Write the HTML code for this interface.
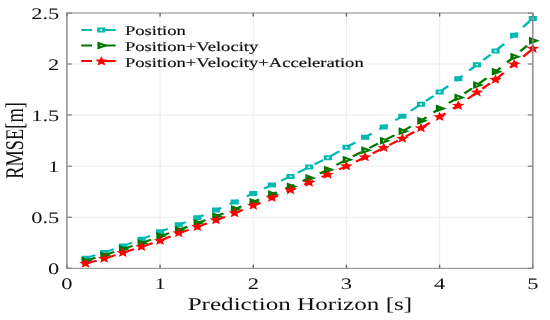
<!DOCTYPE html><html><head><meta charset="utf-8"><style>html,body{margin:0;padding:0;background:#fff;overflow:hidden}svg{display:block}text{text-rendering:geometricPrecision;font-family:"Liberation Serif","Times New Roman",serif;fill:#111}.lg{stroke:#111;stroke-width:0.16px}</style></head><body>
<svg width="550" height="320" viewBox="0 0 550 320">
<rect width="550" height="320" fill="#fff"/>
<g transform="scale(1.4,1)">
<path d="M114.34,13.0V268.3 M180.90,13.0V268.3 M247.46,13.0V268.3 M314.01,13.0V268.3" stroke="#ededed" stroke-width="0.8" fill="none"/>
<path d="M47.79,217.24H380.57 M47.79,166.18H380.57 M47.79,115.12H380.57 M47.79,64.06H380.57" stroke="#ededed" stroke-width="1" fill="none"/>
<path d="M47.79,268.3v-3.6M47.79,13.0v3.6M114.34,268.3v-3.6M114.34,13.0v3.6M180.90,268.3v-3.6M180.90,13.0v3.6M247.46,268.3v-3.6M247.46,13.0v3.6M314.01,268.3v-3.6M314.01,13.0v3.6M380.57,268.3v-3.6M380.57,13.0v3.6M47.79,268.30h3.60M380.57,268.30h-3.60M47.79,217.24h3.60M380.57,217.24h-3.60M47.79,166.18h3.60M380.57,166.18h-3.60M47.79,115.12h3.60M380.57,115.12h-3.60M47.79,64.06h3.60M380.57,64.06h-3.60M47.79,13.00h3.60M380.57,13.00h-3.60" stroke="#666" stroke-width="1" fill="none"/>
<text font-size="16.1" transform="translate(47.79,289.4) scale(0.9982,1)" text-anchor="middle">0</text>
<text font-size="16.1" transform="translate(114.34,289.4) scale(0.9982,1)" text-anchor="middle">1</text>
<text font-size="16.1" transform="translate(180.90,289.4) scale(0.9982,1)" text-anchor="middle">2</text>
<text font-size="16.1" transform="translate(247.46,289.4) scale(0.9982,1)" text-anchor="middle">3</text>
<text font-size="16.1" transform="translate(314.01,289.4) scale(0.9982,1)" text-anchor="middle">4</text>
<text font-size="16.1" transform="translate(380.57,289.4) scale(0.9982,1)" text-anchor="middle">5</text>
<text font-size="16.1" transform="translate(42.36,273.90) scale(0.9982,1)" text-anchor="end">0</text>
<text font-size="16.1" transform="translate(42.36,222.84) scale(0.9982,1)" text-anchor="end">0.5</text>
<text font-size="16.1" transform="translate(42.36,171.78) scale(0.9982,1)" text-anchor="end">1</text>
<text font-size="16.1" transform="translate(42.36,120.72) scale(0.9982,1)" text-anchor="end">1.5</text>
<text font-size="16.1" transform="translate(42.36,69.66) scale(0.9982,1)" text-anchor="end">2</text>
<text font-size="16.1" transform="translate(42.36,18.60) scale(0.9982,1)" text-anchor="end">2.5</text>
<text font-size="17.9" transform="translate(214.21,310.4) scale(1.0024,1)" text-anchor="middle">Prediction Horizon [s]</text>
<text font-size="18.4" transform="translate(16.43,178.8) rotate(-90) scale(1,0.9899)">RMSE[m]</text>
<polyline points="61.10,258.19 74.41,252.47 87.72,246.04 101.03,239.30 114.34,231.64 127.65,224.69 140.97,217.65 154.28,210.09 167.59,201.92 180.90,193.45 194.21,184.97 207.52,176.39 220.83,167.10 234.15,157.70 247.46,147.19 260.77,137.18 274.08,126.97 287.39,116.35 300.70,104.30 314.01,91.94 327.33,78.87 340.64,64.77 353.95,50.99 367.26,35.26 380.57,18.41" fill="none" stroke="#00b9b2" stroke-width="2" stroke-dasharray="7.50,7.02" stroke-dashoffset="14.35"/>
<path fill="#00b9b2" fill-rule="evenodd" d="M58.20,255.69h5.8v5.0h-5.8ZM60.35,257.44v1.5h1.5v-1.5ZM71.51,249.97h5.8v5.0h-5.8ZM73.66,251.72v1.5h1.5v-1.5ZM84.82,243.54h5.8v5.0h-5.8ZM98.13,236.80h5.8v5.0h-5.8ZM111.44,229.14h5.8v5.0h-5.8ZM124.75,222.19h5.8v5.0h-5.8ZM138.07,215.15h5.8v5.0h-5.8ZM151.38,207.59h5.8v5.0h-5.8ZM164.69,199.42h5.8v5.0h-5.8ZM178.00,190.95h5.8v5.0h-5.8ZM191.31,182.47h5.8v5.0h-5.8ZM204.62,173.89h5.8v5.0h-5.8ZM206.77,175.64v1.5h1.5v-1.5ZM217.93,164.60h5.8v5.0h-5.8ZM220.08,166.35v1.5h1.5v-1.5ZM231.25,155.20h5.8v5.0h-5.8ZM233.40,156.95v1.5h1.5v-1.5ZM244.56,144.69h5.8v5.0h-5.8ZM246.71,146.44v1.5h1.5v-1.5ZM257.87,134.68h5.8v5.0h-5.8ZM271.18,124.47h5.8v5.0h-5.8ZM284.49,113.85h5.8v5.0h-5.8ZM297.80,101.80h5.8v5.0h-5.8ZM299.95,103.55v1.5h1.5v-1.5ZM311.11,89.44h5.8v5.0h-5.8ZM313.26,91.19v1.5h1.5v-1.5ZM324.43,76.37h5.8v5.0h-5.8ZM337.74,62.27h5.8v5.0h-5.8ZM339.89,64.02v1.5h1.5v-1.5ZM351.05,48.49h5.8v5.0h-5.8ZM353.20,50.24v1.5h1.5v-1.5ZM364.36,32.76h5.8v5.0h-5.8ZM377.67,15.91h5.8v5.0h-5.8ZM379.82,17.66v1.5h1.5v-1.5Z"/>
<polyline points="61.10,260.64 74.41,255.23 87.72,249.00 101.03,243.18 114.34,236.03 127.65,230.00 140.97,223.06 154.28,216.22 167.59,209.07 180.90,201.92 194.21,194.26 207.52,186.60 220.83,177.92 234.15,169.75 247.46,159.64 260.77,150.25 274.08,140.65 287.39,131.25 300.70,120.84 314.01,108.38 327.33,97.56 340.64,85.10 353.95,71.82 367.26,56.71 380.57,40.78" fill="none" stroke="#007800" stroke-width="2" stroke-dasharray="7.50,7.02" stroke-dashoffset="14.29"/>
<path fill="#007800" fill-rule="evenodd" d="M58.40,256.64L66.20,260.64L58.40,264.64ZM60.60,259.89L60.60,261.39L62.10,260.64ZM71.71,251.23L79.51,255.23L71.71,259.23ZM73.91,254.48L73.91,255.98L75.41,255.23ZM85.02,245.00L92.82,249.00L85.02,253.00ZM87.22,248.25L87.22,249.75L88.72,249.00ZM98.33,239.18L106.13,243.18L98.33,247.18ZM100.53,242.43L100.53,243.93L102.03,243.18ZM111.64,232.03L119.44,236.03L111.64,240.03ZM124.95,226.00L132.75,230.00L124.95,234.00ZM138.27,219.06L146.07,223.06L138.27,227.06ZM151.58,212.22L159.38,216.22L151.58,220.22ZM164.89,205.07L172.69,209.07L164.89,213.07ZM178.20,197.92L186.00,201.92L178.20,205.92ZM191.51,190.26L199.31,194.26L191.51,198.26ZM204.82,182.60L212.62,186.60L204.82,190.60ZM218.13,173.92L225.93,177.92L218.13,181.92ZM231.45,165.75L239.25,169.75L231.45,173.75ZM244.76,155.64L252.56,159.64L244.76,163.64ZM246.96,158.89L246.96,160.39L248.46,159.64ZM258.07,146.25L265.87,150.25L258.07,154.25ZM260.27,149.50L260.27,151.00L261.77,150.25ZM271.38,136.65L279.18,140.65L271.38,144.65ZM273.58,139.90L273.58,141.40L275.08,140.65ZM284.69,127.25L292.49,131.25L284.69,135.25ZM286.89,130.50L286.89,132.00L288.39,131.25ZM298.00,116.84L305.80,120.84L298.00,124.84ZM311.31,104.38L319.11,108.38L311.31,112.38ZM324.63,93.56L332.43,97.56L324.63,101.56ZM326.83,96.81L326.83,98.31L328.33,97.56ZM337.94,81.10L345.74,85.10L337.94,89.10ZM340.14,84.35L340.14,85.85L341.64,85.10ZM351.25,67.82L359.05,71.82L351.25,75.82ZM364.56,52.71L372.36,56.71L364.56,60.71ZM366.76,55.96L366.76,57.46L368.26,56.71ZM377.87,36.78L385.67,40.78L377.87,44.78ZM380.07,40.03L380.07,41.53L381.57,40.78Z"/>
<polyline points="61.10,263.60 74.41,258.60 87.72,252.78 101.03,246.85 114.34,240.73 127.65,233.07 140.97,226.94 154.28,220.20 167.59,213.16 180.90,205.60 194.21,197.84 207.52,190.08 220.83,182.52 234.15,174.55 247.46,166.18 260.77,157.19 274.08,147.80 287.39,138.51 300.70,128.09 314.01,116.86 327.33,105.62 340.64,92.35 353.95,79.68 367.26,64.26 380.57,48.64" fill="none" stroke="#ff0000" stroke-width="2" stroke-dasharray="7.50,7.02" stroke-dashoffset="13.45"/>
<path fill="#ff0000" d="M61.10,258.45L62.33,261.77L65.61,262.01L63.08,264.30L63.89,267.77L61.10,265.87L58.31,267.77L59.11,264.30L56.58,262.01L59.87,261.77ZM74.41,253.45L75.64,256.77L78.93,257.01L76.40,259.30L77.20,262.77L74.41,260.86L71.62,262.77L72.42,259.30L69.89,257.01L73.18,256.77ZM87.72,247.63L88.95,250.94L92.24,251.19L89.71,253.48L90.51,256.94L87.72,255.04L84.93,256.94L85.73,253.48L83.20,251.19L86.49,250.94ZM101.03,241.70L102.26,245.02L105.55,245.26L103.02,247.56L103.82,251.02L101.03,249.12L98.24,251.02L99.04,247.56L96.51,245.26L99.80,245.02ZM114.34,235.58L115.57,238.89L118.86,239.14L116.33,241.43L117.13,244.89L114.34,242.99L111.55,244.89L112.36,241.43L109.83,239.14L113.11,238.89ZM127.65,227.92L128.88,231.24L132.17,231.48L129.64,233.77L130.45,237.24L127.65,235.33L124.86,237.24L125.67,233.77L123.14,231.48L126.43,231.24ZM140.97,221.79L142.19,225.11L145.48,225.35L142.95,227.64L143.76,231.11L140.97,229.21L138.17,231.11L138.98,227.64L136.45,225.35L139.74,225.11ZM154.28,215.05L155.51,218.37L158.79,218.61L156.26,220.90L157.07,224.37L154.28,222.47L151.49,224.37L152.29,220.90L149.76,218.61L153.05,218.37ZM167.59,208.01L168.82,211.32L172.11,211.56L169.58,213.86L170.38,217.32L167.59,215.42L164.80,217.32L165.60,213.86L163.07,211.56L166.36,211.32ZM180.90,200.45L182.13,203.77L185.42,204.01L182.89,206.30L183.69,209.76L180.90,207.86L178.11,209.76L178.91,206.30L176.38,204.01L179.67,203.77ZM194.21,192.69L195.44,196.00L198.73,196.25L196.20,198.54L197.00,202.00L194.21,200.10L191.42,202.00L192.22,198.54L189.69,196.25L192.98,196.00ZM207.52,184.93L208.75,188.24L212.04,188.48L209.51,190.78L210.31,194.24L207.52,192.34L204.73,194.24L205.54,190.78L203.01,188.48L206.29,188.24ZM220.83,177.37L222.06,180.69L225.35,180.93L222.82,183.22L223.63,186.69L220.83,184.79L218.04,186.69L218.85,183.22L216.32,180.93L219.61,180.69ZM234.15,169.40L235.37,172.72L238.66,172.96L236.13,175.25L236.94,178.72L234.15,176.82L231.35,178.72L232.16,175.25L229.63,172.96L232.92,172.72ZM247.46,161.03L248.69,164.35L251.97,164.59L249.44,166.88L250.25,170.35L247.46,168.45L244.67,170.35L245.47,166.88L242.94,164.59L246.23,164.35ZM260.77,152.04L262.00,155.36L265.29,155.60L262.76,157.89L263.56,161.36L260.77,159.46L257.98,161.36L258.78,157.89L256.25,155.60L259.54,155.36ZM274.08,142.65L275.31,145.97L278.60,146.21L276.07,148.50L276.87,151.96L274.08,150.06L271.29,151.96L272.09,148.50L269.56,146.21L272.85,145.97ZM287.39,133.36L288.62,136.67L291.91,136.91L289.38,139.21L290.18,142.67L287.39,140.77L284.60,142.67L285.40,139.21L282.87,136.91L286.16,136.67ZM300.70,122.94L301.93,126.26L305.22,126.50L302.69,128.79L303.49,132.26L300.70,130.36L297.91,132.26L298.72,128.79L296.19,126.50L299.47,126.26ZM314.01,111.71L315.24,115.02L318.53,115.26L316.00,117.56L316.81,121.02L314.01,119.12L311.22,121.02L312.03,117.56L309.50,115.26L312.79,115.02ZM327.33,100.47L328.55,103.79L331.84,104.03L329.31,106.32L330.12,109.79L327.33,107.89L324.53,109.79L325.34,106.32L322.81,104.03L326.10,103.79ZM340.64,87.20L341.87,90.51L345.15,90.76L342.62,93.05L343.43,96.51L340.64,94.61L337.85,96.51L338.65,93.05L336.12,90.76L339.41,90.51ZM353.95,74.53L355.18,77.85L358.47,78.09L355.94,80.38L356.74,83.85L353.95,81.95L351.16,83.85L351.96,80.38L349.43,78.09L352.72,77.85ZM367.26,59.11L368.49,62.43L371.78,62.67L369.25,64.96L370.05,68.43L367.26,66.53L364.47,68.43L365.27,64.96L362.74,62.67L366.03,62.43ZM380.57,43.49L381.80,46.81L385.09,47.05L382.56,49.34L383.36,52.81L380.57,50.91L377.78,52.81L378.58,49.34L376.05,47.05L379.34,46.81Z"/>
<rect x="47.79" y="13.0" width="332.79" height="255.30" fill="none" stroke="#858585" stroke-width="1.0"/>
<path d="M58.00,30.10H65.71M74.29,30.10H82.64" stroke="#00b9b2" stroke-width="2" fill="none"/>
<path fill="#00b9b2" fill-rule="evenodd" d="M69.39,27.60h5.8v5.0h-5.8ZM71.54,29.35v1.5h1.5v-1.5Z"/>
<text class="lg" font-size="13.4" transform="translate(89.21,34.5) scale(0.9915,1)">Position</text>
<path d="M58.00,45.60H65.71M74.29,45.60H82.64" stroke="#007800" stroke-width="2" fill="none"/>
<path fill="#007800" fill-rule="evenodd" d="M69.59,41.60L77.39,45.60L69.59,49.60ZM71.79,44.85L71.79,46.35L73.29,45.60Z"/>
<text class="lg" font-size="13.4" transform="translate(89.21,50.9) scale(0.9915,1)">Position+Velocity</text>
<path d="M58.00,61.10H65.71M74.29,61.10H82.64" stroke="#ff0000" stroke-width="2" fill="none"/>
<path fill="#ff0000" d="M72.43,56.25L73.66,59.57L76.95,59.81L74.42,62.10L75.22,65.57L72.43,63.67L69.64,65.57L70.44,62.10L67.91,59.81L71.20,59.57Z"/>
<text class="lg" font-size="13.4" transform="translate(89.21,66.6) scale(0.9915,1)">Position+Velocity+Acceleration</text>
</g></svg></body></html>
